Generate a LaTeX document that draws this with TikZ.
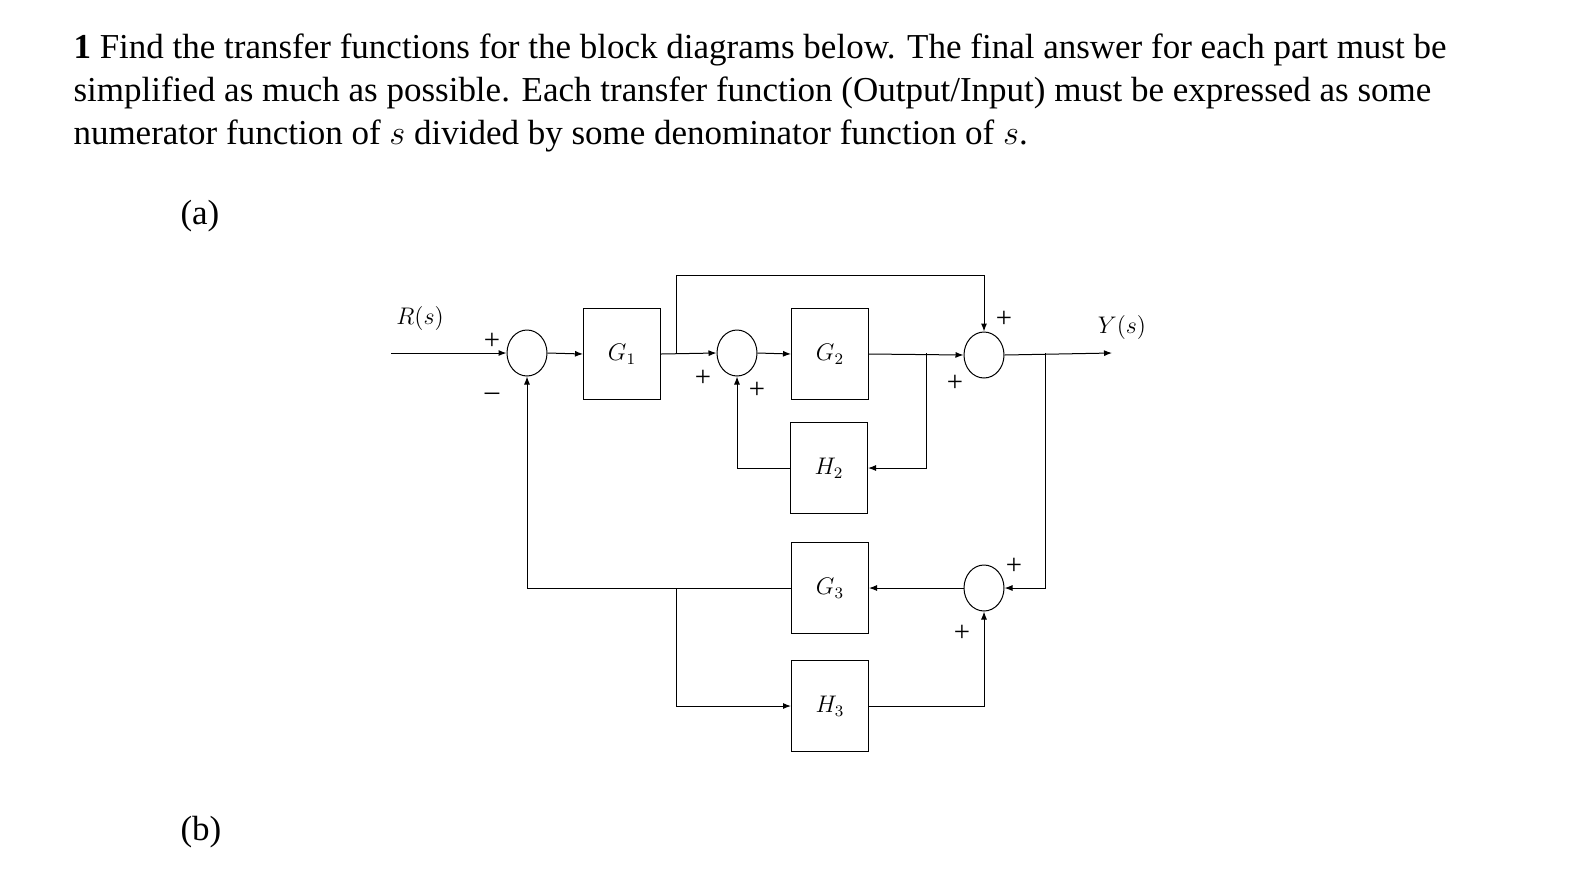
\documentclass[tikz,border=0pt]{standalone}
\usepackage{fontspec}
\setmainfont{Liberation Serif}
\usetikzlibrary{arrows.meta,positioning,shapes.geometric}
\tikzset{
  >={Latex[length=4pt,width=3pt]},
  every picture/.append style={line width=0.5pt},
}
\begin{document}
\begin{tikzpicture}[
  x=0.5pt, y=-0.5pt,
  block/.style={draw, minimum width=38.5pt, minimum height=45.5pt, inner sep=0pt, font=\large\itshape},
  summer/.style={draw, ellipse, minimum width=20pt, minimum height=23pt, inner sep=0pt},
  sign/.style={font=\Large, inner sep=0pt},
  sig/.style={font=\large\itshape, inner sep=0pt},
  txt/.style={font=\fontsize{17.5}{21.5}\selectfont, anchor=north west, inner sep=0pt, align=left}
]
\useasboundingbox (0,0) rectangle (1574,890);

% question text
\node[txt] (q) at (73,33) {\textbf{1} Find the transfer functions for the block diagrams below. The final answer for each part must be\\
simplified as much as possible. Each transfer function (Output/Input) must be expressed as some\\
numerator function of $s$ divided by some denominator function of $s$.};
\node[txt] (pa) at (180,200) {(a)};
\node[txt] (pb) at (180,816) {(b)};

% blocks and summers
\node[summer] (s1) at (527,353) {};
\node[block] (g1) at (622,354) {$G_1$};
\node[summer] (s2) at (737,353) {};
\node[block] (g2) at (830,354) {$G_2$};
\node[summer] (s3) at (984,355) {};
\node[block] (h2) at (829,468) {$H_2$};
\node[block] (g3) at (830,588) {$G_3$};
\node[summer] (s4) at (984,588) {};
\node[block] (h3) at (830,706) {$H_3$};

% branch points
\coordinate (in) at (391,353);
\coordinate (out) at (1112,353);
\coordinate (b1) at (676,353);
\coordinate (b2) at (926,353);
\coordinate (b3) at (1045,353);
\coordinate (b4) at (676,588);

% labels
\node[sig] (r) at (420,318) {$R(s)$};
\node[sig] (y) at (1122,327) {$Y(s)$};
\node[sign] at (492,341) {+};
\node[sign] at (492,397) {--};
\node[sign] at (703,378) {+};
\node[sign] at (757,390) {+};
\node[sign] at (1004,319) {+};
\node[sign] at (955,383) {+};
\node[sign] at (1014,566) {+};
\node[sign] at (962,633) {+};

% forward path
\draw[->] (in) -- (s1.west);
\draw[->] (s1.east) -- (g1.west);
\draw[->] (g1.east) -- (s2.west);
\draw[->] (s2.east) -- (g2.west);
\draw[->] (g2.east) -- (s3.west);
\draw[->] (s3.east) -- (out);

% feedforward around G2
\draw[->] (b1) |- (984,275) -- (s3.north);

% inner loop H2
\draw[->] (b2) |- (h2.east);
\draw[->] (h2.west) -| (s2.south);

% outer loop G3, H3
\draw[->] (b3) |- (s4.east);
\draw[->] (s4.west) -- (g3.east);
\draw[->] (g3.west) -| (s1.south);
\draw[->] (b4) |- (h3.west);
\draw[->] (h3.east) -| (s4.south);
\end{tikzpicture}
\end{document}
